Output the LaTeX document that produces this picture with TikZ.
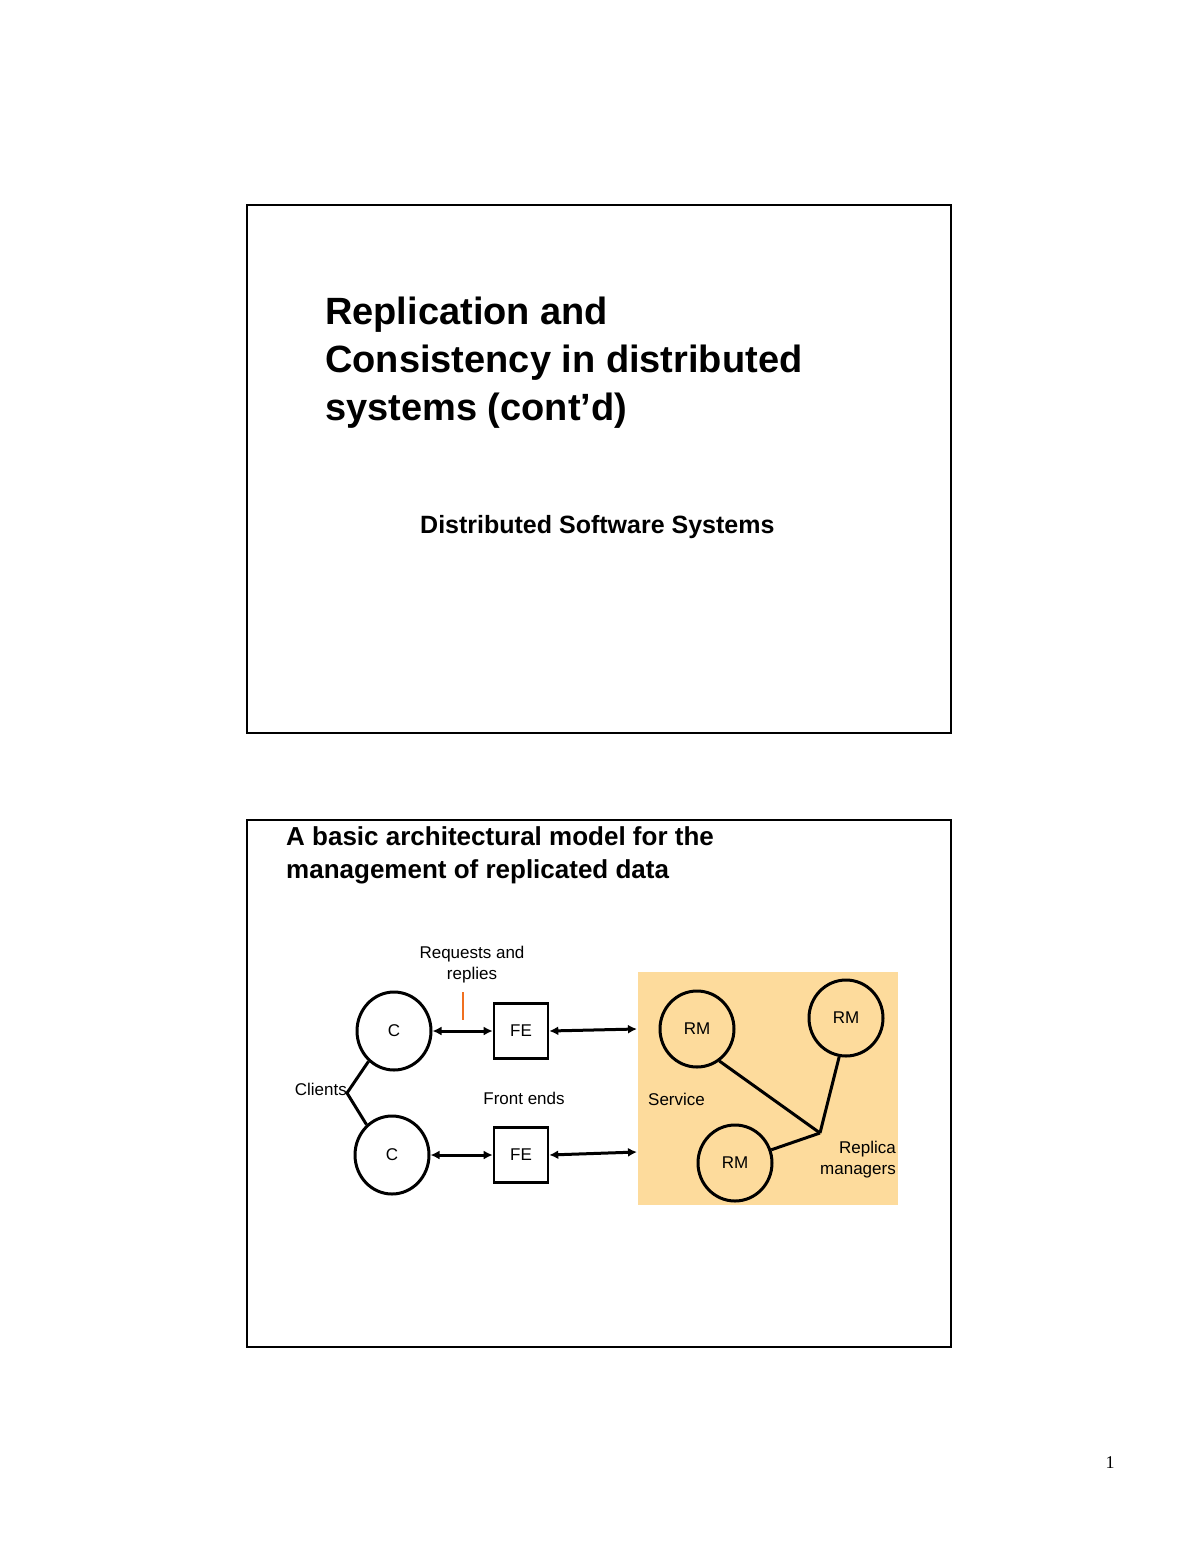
\documentclass[tikz,border=0pt]{standalone}
\usepackage{fontspec}
\setmainfont{Liberation Serif}
\setsansfont{Liberation Sans}
\usetikzlibrary{arrows.meta,shapes.geometric}
\definecolor{peach}{HTML}{FDDB9C}
\definecolor{orng}{HTML}{F07020}
\begin{document}
\begin{tikzpicture}[x=1pt,y=-1pt,
  frame/.style={draw,line width=2.2pt},
  circ/.style={draw,ellipse,line width=3pt,minimum width=74pt,minimum height=78pt,inner sep=0pt,font=\sffamily\fontsize{17}{17}\selectfont},
  rm/.style={circ,minimum width=74pt,minimum height=76pt},
  fe/.style={draw,line width=2.6pt,minimum width=54pt,minimum height=55pt,inner sep=0pt,font=\sffamily\fontsize{17}{17}\selectfont},
  lbl/.style={font=\sffamily\fontsize{17}{21}\selectfont},
  conn/.style={line width=3pt},
  dbl/.style={line width=3pt,{Latex[length=9pt,width=9pt]}-{Latex[length=9pt,width=9pt]}}]
\useasboundingbox (0,0) rectangle (1200,1553);
\fill[white] (0,0) rectangle (1200,1553);
\draw[frame] (247,205) rectangle (951,733);
\draw[frame] (247,820) rectangle (951,1347);
\node[anchor=north west,align=left,font=\sffamily\bfseries\fontsize{38}{48}\selectfont,inner sep=0pt] (t1) at (325,297) {Replication and\\Consistency in distributed\\systems (cont’d)};
\node[anchor=base west,font=\sffamily\bfseries\fontsize{25}{30}\selectfont,inner sep=0pt] (t2) at (420,533) {Distributed Software Systems};
\node[anchor=north west,align=left,font=\sffamily\bfseries\fontsize{26}{33}\selectfont,inner sep=0pt] (t3) at (286,826) {A basic architectural model for the\\management of replicated data};
\fill[peach] (638,972) rectangle (898,1205);
\node[circ] (c1) at (394,1031) {C};
\node[circ] (c2) at (392,1155) {C};
\node[fe] (fe1) at (521,1031) {FE};
\node[fe] (fe2) at (521,1155) {FE};
\node[rm] (rm1) at (697,1029) {RM};
\node[rm] (rm2) at (846,1018) {RM};
\node[rm] (rm3) at (735,1163) {RM};
\coordinate (s1) at (637,1029);
\coordinate (s2) at (637,1152);
\coordinate (j) at (820,1133);
\coordinate (cl) at (347,1093);
\draw[dbl] (c1.east) -- (fe1.west);
\draw[dbl] (c2.east) -- (fe2.west);
\draw[dbl] (fe1.east) -- (s1);
\draw[dbl] (fe2.east) -- (s2);
\draw[conn] (rm1.-55) -- (j);
\draw[conn] (rm2.-100) -- (j);
\draw[conn] (rm3.20) -- (j);
\draw[conn] (c1.-130) -- (cl) -- (c2.130);
\coordinate (o1) at (463,992); \coordinate (o2) at (463,1020);
\draw[orng,line width=2pt] (o1) -- (o2);
\node[lbl,align=center] (rr) at (472,965) {Requests and\\replies};
\node[lbl] (fend) at (524,1098) {Front ends};
\node[lbl,anchor=west,inner sep=0pt] (svc) at (648,1099) {Service};
\node[lbl,anchor=east,inner sep=0pt] (cli) at (347,1089) {Clients};
\node[lbl,align=right,anchor=east,inner sep=0pt] (rep) at (896,1160) {Replica\\managers};
\node[font=\fontsize{18}{18}\selectfont] (pg) at (1110,1463) {1};
\end{tikzpicture}
\end{document}
